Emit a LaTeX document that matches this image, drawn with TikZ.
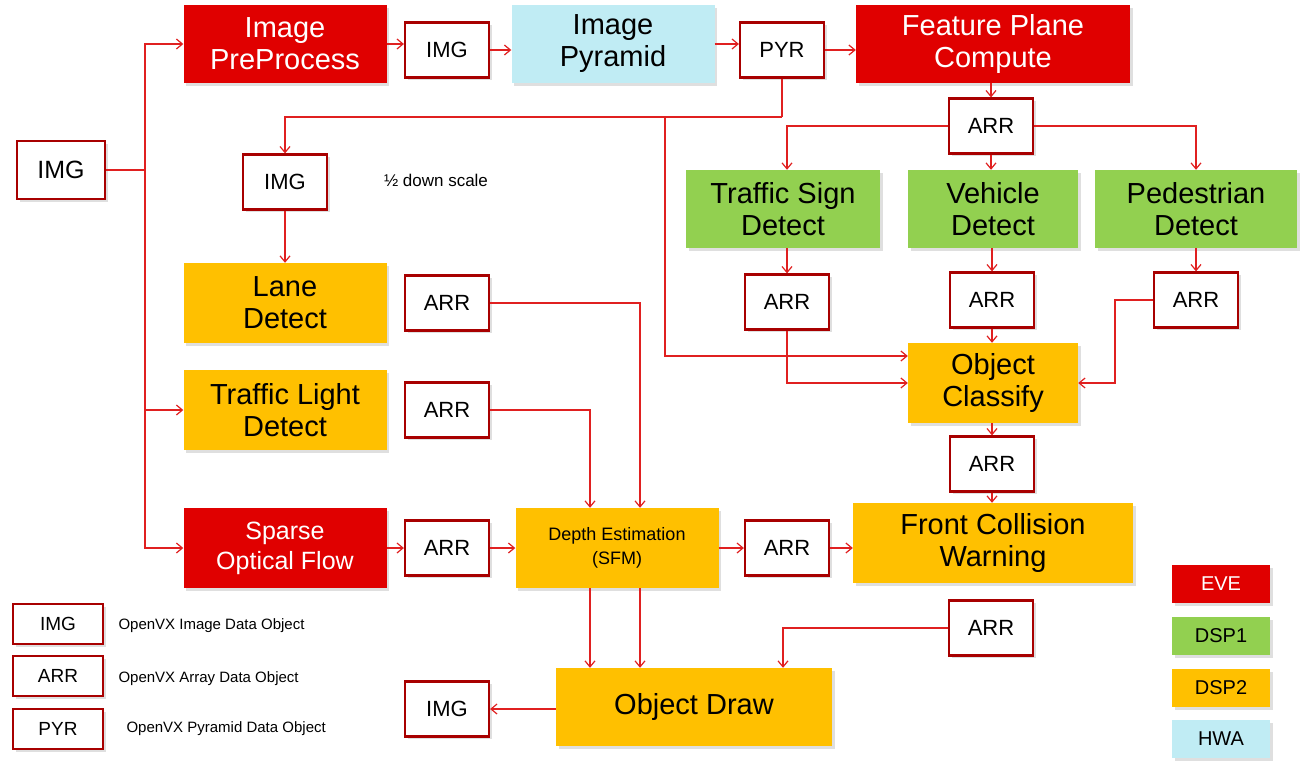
\documentclass[tikz,border=0pt]{standalone}
\usepackage{fontspec}
\setmainfont{Liberation Sans}
\usetikzlibrary{shadows,arrows.meta}
\definecolor{eve}{HTML}{E00000}
\definecolor{dspa}{HTML}{92D050}
\definecolor{dspb}{HTML}{FFC000}
\definecolor{hwa}{HTML}{C0ECF4}
\definecolor{brd}{HTML}{A80000}
\definecolor{ln}{HTML}{E02020}
\begin{document}
\begin{tikzpicture}[x=1pt,y=-1pt,
 proc/.style={draw=none,minimum width=#1,align=center,inner sep=0pt,font=\fontsize{29}{32}\selectfont,drop shadow={opacity=0.25}},
 red/.style={proc=203,fill=eve,text=white,minimum height=78},
 data/.style={draw=brd,line width=2.2pt,fill=white,minimum width=84,minimum height=55,inner sep=0pt,font=\fontsize{22}{24}\selectfont,drop shadow={opacity=0.25}},
 leg/.style={data,minimum width=90,minimum height=40,font=\fontsize{19}{22}\selectfont},
 lt/.style={font=\fontsize{15}{18}\selectfont,anchor=west},
 cl/.style={minimum width=98,minimum height=38,inner sep=0pt,font=\fontsize{20}{22}\selectfont,drop shadow={opacity=0.25}},
 c/.style={draw=ln,line width=1.2pt,-{Straight Barb[length=6pt,width=10pt]}},
 cn/.style={draw=ln,line width=1.2pt}]
\useasboundingbox (0,0) rectangle (1306,763);
\node[red] (pre) at (285,44) {Image\\PreProcess};
\node[proc=203,fill=hwa,minimum height=78] (pyr) at (613,44) {Image\\Pyramid};
\node[proc=274,fill=eve,text=white,minimum height=78] (fpc) at (993,44) {Feature Plane\\Compute};
\node[proc=194,fill=dspa,minimum height=78] (tsd) at (783,209) {Traffic Sign\\Detect};
\node[proc=170,fill=dspa,minimum height=78] (vd) at (993,209) {Vehicle\\Detect};
\node[proc=202,fill=dspa,minimum height=78] (pd) at (1196,209) {Pedestrian\\Detect};
\node[proc=170,fill=dspb,minimum height=80] (oc) at (993,383) {Object\\Classify};
\node[proc=280,fill=dspb,minimum height=80] (fcw) at (993,543) {Front Collision\\Warning};
\node[proc=203,fill=dspb,minimum height=80] (lane) at (285,303) {Lane\\Detect};
\node[proc=203,fill=dspb,minimum height=80] (tld) at (285,410) {Traffic Light\\Detect};
\node[proc=203,fill=eve,text=white,minimum height=80,font=\fontsize{25}{30}\selectfont] (sof) at (285,548) {Sparse\\Optical Flow};
\node[proc=203,fill=dspb,minimum height=80,font=\fontsize{18}{24}\selectfont] (dep) at (617,548) {Depth Estimation\\(SFM)};
\node[proc=276,fill=dspb,minimum height=78,font=\fontsize{29}{32}\selectfont] (od) at (694,707) {Object Draw};
\node[data,minimum width=88,minimum height=58,font=\fontsize{25}{28}\selectfont] (img0) at (61,170) {IMG};
\node[data] (img1) at (447,50) {IMG};
\node[data] (pyrd) at (782,50) {PYR};
\node[data] (afpc) at (991,126) {ARR};
\node[data] (atsd) at (787,302) {ARR};
\node[data] (avd) at (992,300) {ARR};
\node[data] (apd) at (1196,300) {ARR};
\node[data] (aoc) at (992,464) {ARR};
\node[data] (afcw) at (991,628) {ARR};
\node[data] (imgh) at (285,182) {IMG};
\node[font=\fontsize{17}{20}\selectfont] (half) at (436,180) {½ down scale};
\node[data] (alane) at (447,303) {ARR};
\node[data] (atld) at (447,410) {ARR};
\node[data] (asof) at (447,548) {ARR};
\node[data] (adep) at (787,548) {ARR};
\node[data] (imgo) at (447,709) {IMG};
\node[leg] (l1) at (58,624) {IMG};
\node[leg] (l2) at (58,676) {ARR};
\node[leg] (l3) at (58,729) {PYR};
\node[lt] (t1) at (115,626) {OpenVX Image Data Object};
\node[lt] (t2) at (115,679) {OpenVX Array Data Object};
\node[lt] (t3) at (123,729) {OpenVX Pyramid Data Object};
\node[cl,fill=eve,text=white] (k1) at (1221,584) {EVE};
\node[cl,fill=dspa] (k2) at (1221,636) {DSP1};
\node[cl,fill=dspb] (k3) at (1221,688) {DSP2};
\node[cl,fill=hwa] (k4) at (1221,739) {HWA};
% connectors
\coordinate (tr) at (145,170);
\draw[cn] (img0.east) -- (tr);
\draw[c] (tr) |- (pre.west);
\draw[c] (tr) |- (tld.west);
\draw[c] (tr) |- (sof.west);
\draw[c] (pre.east) -- (img1.west |- pre.east);
\draw[c] (img1.east) -- (pyr.west |- img1.east);
\draw[c] (pyr.east) -- (pyrd.west |- pyr.east);
\draw[c] (pyrd.east) -- (fpc.west |- pyrd.east);
\coordinate (pj) at (782,117);
\draw[cn] (pyrd.south) -- (pj);
\draw[c] (pj) -| (imgh.north);
\coordinate (pk) at (665,117);
\draw[c] (pk) |- ([yshift=27]oc.west);
\draw[c] (imgh.south) -- (lane.north);
\draw[c] (fpc.south -| afpc) -- (afpc.north);
\draw[c] (afpc.west) -| (tsd.north -| atsd);
\draw[c] (afpc.south) -- (vd.north -| afpc);
\draw[c] (afpc.east) -| (pd.north);
\draw[c] (tsd.south -| atsd) -- (atsd.north);
\draw[c] (vd.south -| avd) -- (avd.north);
\draw[c] (pd.south) -- (apd.north);
\draw[c] (atsd.south) |- (oc.west);
\draw[c] (avd.south) -- (oc.north -| avd);
\coordinate (pdj) at (1115,300);
\draw[c] (apd.west) -- (pdj) |- (oc.east);
\draw[c] (oc.south -| aoc) -- (aoc.north);
\draw[c] (aoc.south) -- (fcw.north -| aoc);
\coordinate (lj) at (640,303);
\coordinate (tj) at (590,410);
\draw[c] (alane.east) -- (lj) -- (lj |- dep.north);
\draw[c] (atld.east) -- (tj) -- (tj |- dep.north);
\draw[c] (sof.east) -- (asof.west);
\draw[c] (asof.east) -- (dep.west);
\draw[c] (dep.east) -- (adep.west);
\draw[c] (adep.east) -- (fcw.west |- adep.east);
\draw[c] (dep.south -| tj) -- (od.north -| tj);
\draw[c] (dep.south -| lj) -- (od.north -| lj);
\draw[c] (afcw.west) -| ([xshift=89]od.north);
\draw[c] (od.west |- imgo) -- (imgo.east);
\end{tikzpicture}
\end{document}
